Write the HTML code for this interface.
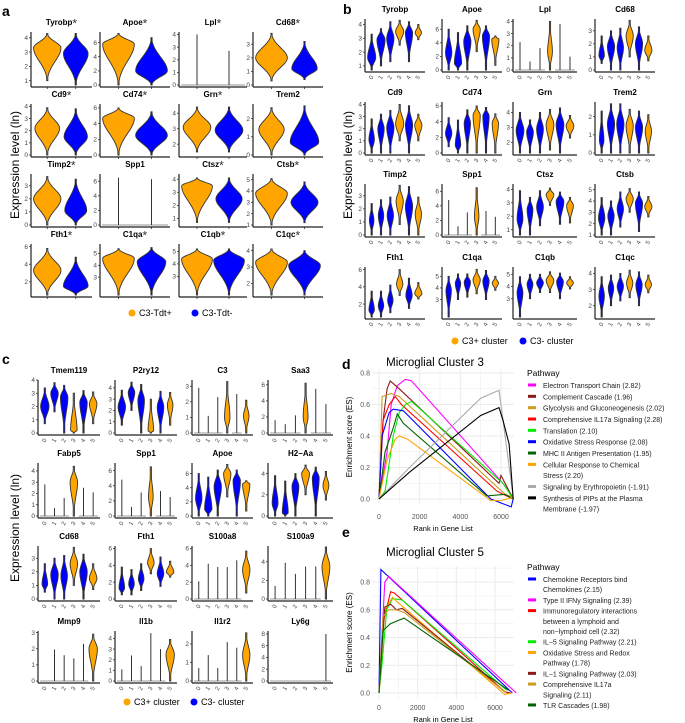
<!DOCTYPE html>
<html><head><meta charset="utf-8"><style>
body{margin:0;background:#fff;}
svg{display:block;font-family:"Liberation Sans",sans-serif;}
</style></head><body>
<svg id="fig" width="685" height="723" viewBox="0 0 685 723" xmlns="http://www.w3.org/2000/svg">
<text x="2" y="16" font-size="14" font-weight="bold">a</text>
<text x="343" y="14" font-size="14" font-weight="bold">b</text>
<text x="2" y="364" font-size="14" font-weight="bold">c</text>
<text x="342" y="369" font-size="14" font-weight="bold">d</text>
<text x="342" y="537" font-size="14" font-weight="bold">e</text>
<text transform="translate(19,165) rotate(-90)" text-anchor="middle" font-size="12">Expression level (ln)</text>
<text transform="translate(352,165) rotate(-90)" text-anchor="middle" font-size="12">Expression level (ln)</text>
<text transform="translate(19,528) rotate(-90)" text-anchor="middle" font-size="12">Expression level (ln)</text>
<g font-size="9">
<circle cx="132" cy="313" r="3.5" fill="#FFA500"/><text x="139" y="316">C3-Tdt+</text>
<circle cx="195" cy="313" r="3.5" fill="#0000FF"/><text x="202" y="316">C3-Tdt-</text></g>
<g font-size="9">
<circle cx="455" cy="341" r="3.5" fill="#FFA500"/><text x="462" y="344">C3+ cluster</text>
<circle cx="523" cy="341" r="3.5" fill="#0000FF"/><text x="530" y="344">C3- cluster</text></g>
<g font-size="9">
<circle cx="127" cy="702" r="3.5" fill="#FFA500"/><text x="134" y="705">C3+ cluster</text>
<circle cx="194" cy="702" r="3.5" fill="#0000FF"/><text x="201" y="705">C3- cluster</text></g>
</svg>
<script>
// ---------- Panel a data ----------
const aGenes=["Tyrobp*","Apoe*","Lpl*","Cd68*","Cd9*","Cd74*","Grn*","Trem2","Timp2*","Spp1","Ctsz*","Ctsb*","Fth1*","C1qa*","C1qb*","C1qc*"];
const aTicks=[[1,2,3,4],[0,2,4,6],[0,1,2,3,4],[0,1,2,3],[0,1,2,3,4],[0,2,4,6],[2,3,4],[0,1,2],[0,1,2,3],[0,2,4,6],[1,2,3,4],[1,2,3,4,5],[2,4,6],[3,4,5],[3,4,5],[2,3,4]];
const aRange=[[0.7,4.4],[0,7.5],[0,4.2],[0,3.9],[0,4.2],[0,6.5],[1.3,4.6],[0,2.8],[0,3.9],[0,7],[0.5,4.4],[1,5.5],[0.5,6.3],[1.5,5.8],[1.5,5.6],[1.3,4.4]];
// each violin: [lo, hi, peak, width]
const aViolins=[
[[1,4.3,3.3,1],[0.7,4.3,2.9,0.9]],
[[0,7.3,5.8,1],[0,6.7,2,1]],
[[0,4,0,0.05],[0,2.7,0,0.05]],
[[0.3,3.8,2,1],[0.4,3.2,1.2,0.8]],
[[0,3.9,2.2,0.9],[0,3.8,1.5,0.85]],
[[0,6,4.7,1],[0,5.5,2.5,1]],
[[1.5,4.4,3.1,0.9],[1.5,4.4,2.9,0.9]],
[[0,2.6,1.4,0.8],[0,2.7,0.7,0.9]],
[[0,3.7,2,1],[0,3.5,1.1,0.8]],
[[0,6.5,0,0.05],[0,6.3,0,0.05]],
[[0.7,4.1,3.5,1],[0.7,4.1,2.5,0.85]],
[[1,5.1,3.8,1],[1.2,4.8,3,0.85]],
[[0.5,5.8,3.3,1],[0.5,4.8,1.5,0.9]],
[[1.5,5.4,4.6,1],[1.5,5.5,4.3,0.9]],
[[1.5,5.2,4.4,1],[1.5,5.2,4.3,1]],
[[1.3,4.1,3.3,1],[1.3,4,3.1,1]]];
const aColors=["#FFA500","#0000FF"];

// ---------- Panel b data ----------
const bGenes=["Tyrobp","Apoe","Lpl","Cd68","Cd9","Cd74","Grn","Trem2","Timp2","Spp1","Ctsz","Ctsb","Fth1","C1qa","C1qb","C1qc"];
const bTicks=[[1,2,3,4],[0,2,4,6],[0,1,2,3,4],[0,1,2,3],[0,1,2,3,4],[0,2,4,6],[2,3,4],[0,1,2],[0,1,2,3],[0,2,4,6],[1,2,3,4],[1,2,3,4,5],[2,4,6],[3,4,5],[3,4,5],[2,3,4]];
const bRange=[[0.7,4.4],[0,7.5],[0,4.2],[0,3.9],[0,4.2],[0,6.5],[1.3,4.7],[0,2.8],[0,3.9],[0,7],[0.6,4.4],[1,5.5],[0.5,6.3],[1.5,5.8],[1.5,5.6],[1.3,4.4]];
const bViolins=[
[[0.7,3.3,1.6,0.9],[1,3.7,2.9,0.9],[1.3,4.2,3,0.8],[2.5,4.3,3.5,0.9],[1.3,4.2,3.4,0.8],[2.9,4,3.4,0.7]],
[[0,6,2.5,0.7],[0,5.5,1,0.8],[0,6.5,4.2,0.8],[2.7,7.3,6,0.8],[0,6.5,5,0.8],[0.7,5,4.5,0.8]],
[[0,2.3,0,0.05],[0,0.7,0,0.05],[0,1.8,0,0.05],[0,4,1.5,0.5],[0,3.8,0,0.05],[0,1.1,0,0.05]],
[[0.5,2.6,1.1,0.6],[0,3,1.8,0.8],[0,3.2,1.7,0.7],[1,3.8,2.6,0.8],[0,3.3,2,0.8],[0.7,2.6,1.5,0.8]],
[[0,2.8,1.1,0.6],[0,3.2,2,0.7],[0,3.5,2.1,0.8],[1,4,2.4,0.9],[0,3.9,2.3,0.8],[1,3.2,2.3,0.8]],
[[0.8,4.5,2.5,0.7],[0,4.2,1,0.6],[0,5.5,3.8,0.7],[0,6,4.8,0.8],[0,5.8,4.7,0.7],[0,5,3.8,0.7]],
[[1.3,4,2.8,0.8],[1.3,3.5,2.7,0.7],[1.3,4,2.9,0.7],[1.5,4.2,3.2,0.8],[1.3,4.3,3.2,0.8],[2.3,3.8,3.1,0.8]],
[[0,2.3,0.7,0.5],[0,2.7,1.6,0.8],[0,2.7,1.6,0.8],[0,2.4,1.5,0.8],[0,2.3,1.4,0.8],[0,2.1,1.2,0.7]],
[[0,2.4,1.1,0.5],[0,2.7,1.5,0.6],[0,2.9,1.5,0.7],[0.8,3.8,2.6,0.8],[0,3.7,2.2,0.8],[0,2.9,1.6,0.7]],
[[0,4.8,0,0.05],[0,1.2,0,0.05],[0,3.1,0,0.05],[0,6.5,2.5,0.5],[0,3.3,0,0.05],[0,2.5,0,0.05]],
[[0.6,3.9,1.8,0.6],[0.6,3.4,2.5,0.6],[1.3,3.9,2.7,0.7],[2.8,4.1,3.6,0.8],[1.4,3.8,3.1,0.8],[1.5,3.4,2.8,0.7]],
[[1,4.3,2.5,0.7],[1,4,2.7,0.7],[1.7,4.8,3.3,0.7],[3,5.1,4.2,0.8],[1.3,4.8,3.8,0.8],[2.6,4.4,3.5,0.8]],
[[0.5,3.5,1.3,0.6],[0.5,3.5,1.8,0.6],[1,4.2,2.4,0.6],[3,6,4.3,0.7],[1.5,5,3,0.7],[2.6,4.5,3.2,0.8]],
[[1.5,5,3.8,0.6],[3,5.2,4.4,0.6],[3.2,5.2,4.5,0.7],[3.5,5.6,4.7,0.8],[3,5.5,4.6,0.7],[3.8,5,4.4,0.7]],
[[1.5,4.8,3.5,0.6],[3,5,4.2,0.6],[3.5,5,4.3,0.7],[3.5,5.2,4.5,0.8],[3,5.1,4.4,0.7],[3.8,4.8,4.3,0.7]],
[[1.3,3.8,2.6,0.6],[2,3.9,3.1,0.6],[2.3,4,3.2,0.7],[2.5,4.2,3.4,0.7],[2,4.1,3.3,0.7],[2.8,3.9,3.3,0.7]]];
const clusterColors=["#0000FF","#0000FF","#0000FF","#FFA500","#0000FF","#FFA500"];
const clusterLabels=["0","1","2","3","4","5"];

// ---------- Panel c data ----------
const cGenes=["Tmem119","P2ry12","C3","Saa3","Fabp5","Spp1","Apoe","H2−Aa","Cd68","Fth1","S100a8","S100a9","Mmp9","Il1b","Il1r2","Ly6g"];
const cTicks=[[0,1,2,3,4],[0,1,2,3,4],[0,1,2,3],[0,2,4,6],[0,1,2,3,4],[0,2,4,6],[0,2,4,6],[0,2,4],[0,1,2,3],[0,2,4,6],[0,2,4,6],[0,2,4],[0,1,2,3],[0,1,2,3,4],[0,1,2],[0,2,4,6,8]];
const cRange=[[0,4],[0,4.7],[0,3.4],[0,6.6],[0,4.7],[0,7],[0,7.5],[0,5],[0,3.9],[0,6.3],[0,6.3],[0,5.7],[0,3.1],[0,4.7],[0,2.7],[0,8.5]];
const cViolins=[
[[0.7,3.4,2,0.9],[1.6,3.8,3,0.8],[0,3.6,2.7,0.8],[0,3,0.2,0.7],[0,3.2,2.3,0.8],[0.7,3.1,2.2,0.8]],
[[0.7,3.8,2.3,0.8],[2,4.5,3.6,0.7],[0,4.3,2.9,0.7],[0,3,0.2,0.6],[0,3.7,2.3,0.7],[0.7,3.6,2.5,0.6]],
[[0,2.9,0,0.05],[0,1.1,0,0.05],[0,2.3,0,0.05],[0,3.3,1,0.6],[0,2.5,0,0.05],[0,2.1,1.1,0.6]],
[[0,1.6,0,0.05],[0,1.1,0,0.05],[0,2.2,0,0.05],[0,6.2,2,0.5],[0,5.5,0,0.05],[0,3.6,0,0.05]],
[[0,2.8,0,0.05],[0,0.7,0,0.05],[0,1.6,0,0.05],[0,4.4,3,0.8],[0,2.5,0,0.05],[0,2.1,0,0.05]],
[[0,4.8,0,0.05],[0,1.2,0,0.05],[0,3.1,0,0.05],[0,6.5,2.5,0.5],[0,3.3,0,0.05],[0,2.5,0,0.05]],
[[0,6,2.5,0.7],[0,5.5,1,0.8],[0,6.5,4.2,0.8],[2.7,7.3,6,0.8],[0,6.5,5,0.8],[0.7,5,4.5,0.8]],
[[0,3.8,1.2,0.6],[0,3.3,0.3,0.6],[0,4,2.8,0.7],[2,4.8,4,0.8],[0,4.6,3.6,0.7],[1.5,4.2,2.9,0.6]],
[[0.5,2.6,1.1,0.6],[0,3,1.8,0.8],[0,3.2,1.7,0.7],[1,3.8,2.6,0.8],[0,3.3,2,0.8],[0.7,2.6,1.5,0.8]],
[[0.5,3.8,1.3,0.6],[0.5,3.5,1.8,0.6],[1,4.2,2.4,0.6],[3,6,4.3,0.7],[1.5,5,3,0.7],[2.6,4.5,3.2,0.8]],
[[0,2.1,0,0.05],[0,4.2,0,0.05],[0,3.8,0,0.05],[0,3.8,0,0.05],[0,4.6,0,0.05],[0.7,5.7,3.5,0.8]],
[[0,1.4,0,0.05],[0,3.9,0,0.05],[0,2.7,0,0.05],[0,3.5,0,0.05],[0,3.5,0,0.05],[0,5.6,3.5,0.8]],
[[0,0,0,0.05],[0,1.95,0,0.05],[0,1.6,0,0.05],[0,1.4,0,0.05],[0,2.3,0,0.05],[0,2.9,2,0.9]],
[[0,1.1,0,0.05],[0,2.4,0,0.05],[0,1.4,0,0.05],[0,4.5,0,0.05],[0,3,0,0.05],[0,3.9,2.5,0.9]],
[[0,0.7,0,0.05],[0,1.4,0,0.05],[0,0.7,0,0.05],[0,2.1,0,0.05],[0,1.8,0,0.05],[0,2.6,1.4,0.8]],
[[0,0,0,0.05],[0,0,0,0.05],[0,0,0,0.05],[0,0,0,0.05],[0,0,0,0.05],[0,8,0,0.05]]];

// ---------- Panel d data ----------
const dNames=["Electron Transport Chain (2.82)","Complement Cascade (1.96)","Glycolysis and Gluconeogenesis (2.02)","Comprehensive IL17a Signaling (2.28)","Translation (2.10)","Oxidative Stress Response (2.08)","MHC II Antigen Presentation (1.95)","Cellular Response to Chemical|Stress (2.20)","Signaling by Erythropoietin (-1.91)","Synthesis of PIPs at the Plasma|Membrane (-1.97)"];
const dColors=["#FF00FF","#8B1A1A","#CD9B1D","#FF0000","#00EE00","#0000FF","#006400","#FFA500","#AAAAAA","#000000"];
const dRanks=[
[0,400,600,900,1300,1600,6100,6600],
[0,200,400,550,1000,5900,6000,6600],
[0,150,600,1000,6200,6600],
[0,200,500,800,1100,5800,6100,6600],
[0,300,700,1000,1300,1600,6100,6600],
[0,150,500,700,1200,5500,6500,6600],
[0,300,700,900,1200,5300,6200,6600],
[0,400,800,1000,1400,5500,6000,6600],
[0,1500,5000,5900,6200,6600],
[0,1500,5000,5900,6100,6400,6600]];
const dES=[
[0,0.3,0.6,0.72,0.76,0.75,0.1,0.01],
[0,0.5,0.7,0.75,0.7,0.1,0.15,0],
[0,0.65,0.67,0.65,0.03,0.01],
[0,0.5,0.6,0.65,0.6,0.05,0.03,0],
[0,0.05,0.4,0.55,0.6,0.62,0.1,0],
[0,0.4,0.55,0.57,0.56,0,-0.05,0],
[0,0.3,0.45,0.54,0.48,0.02,0.03,0],
[0,0.25,0.38,0.4,0.38,-0.01,-0.01,0.01],
[0,0.2,0.64,0.69,0.4,0.01],
[0,0.17,0.53,0.58,0.5,0.35,0]];
const dXTicks=[0,2000,4000,6000];
const dYTicks=[0,0.2,0.4,0.6,0.8];

// ---------- Panel e data ----------
const eNames=["Chemokine Receptors bind|Chemokines (2.15)","Type II IFNy Signaling (2.39)","Immunoregulatory interactions|between a lymphoid and|non−lymphoid cell (2.32)","IL−5 Signaling Pathway (2.21)","Oxidative Stress and Redox|Pathway (1.78)","IL−1 Signaling Pathway (2.03)","Comprehensive IL17a|Signaling (2.11)","TLR Cascades (1.98)"];
const eColors=["#0000FF","#FF00FF","#FF0000","#00EE00","#FFA500","#8B1A1A","#CD9B1D","#006400"];
const eRanks=[
[0,100,6900],
[0,300,500,7100],
[0,200,600,800,6500,6800],
[0,150,400,700,1200,6600],
[0,300,700,1000,6500,6900],
[0,300,600,900,1200,6500,6700],
[0,200,500,900,1300,6600],
[0,200,600,1300,6700]];
const eES=[
[0,0.89,0],
[0,0.8,0.84,0],
[0,0.5,0.73,0.72,0.01,0],
[0,0.2,0.6,0.68,0.67,0.02],
[0,0.6,0.69,0.65,-0.01,0],
[0,0.62,0.64,0.6,0.61,0.01,0],
[0,0.55,0.6,0.6,0.58,0],
[0,0.45,0.5,0.54,0.02]];
const eXTicks=[0,2000,4000,6000];
const eYTicks=[0,0.2,0.4,0.6,0.8];

const NS="http://www.w3.org/2000/svg";
const fig=document.getElementById('fig');
function el(tag,attrs,parent){const e=document.createElementNS(NS,tag);for(const k in attrs)e.setAttribute(k,attrs[k]);(parent||fig).appendChild(e);return e;}

function violinPath(cx,ys,v,W){
  const [lo,hi,pk,w]=v;const maxW=W*w;
  const pts=[];const N=50;
  for(let i=0;i<=N;i++){
    const val=lo+(hi-lo)*i/N;let t;
    if(val>=pk){t=hi>pk?(val-pk)/(hi-pk):0;}else{t=pk>lo?(pk-val)/(pk-lo):0;}
    t=Math.min(t,1);
    let hw=maxW*Math.exp(-3.2*Math.pow(t,2))*(1-Math.pow(t,6));
    hw=Math.max(hw,0.6);
    pts.push([ys(val),hw]);
  }
  let d="M"+(cx)+","+pts[0][0];
  pts.forEach(p=>{d+=" L"+(cx+p[1]).toFixed(2)+","+p[0].toFixed(2);});
  for(let i=pts.length-1;i>=0;i--){d+=" L"+(cx-pts[i][1]).toFixed(2)+","+pts[i][0].toFixed(2);}
  return d+"Z";
}

function violinPanel(prefix,x0,x1,titleY,yBot,gene,ticks,range,violins,colors,xlabels){
  const g=el('g',{});
  
  
  const yTop=titleY+7;
  const ys=v=>yBot-2-(v-range[0])/(range[1]-range[0])*(yBot-2-yTop);
  const t=el('text',{x:(x0+x1)/2,y:titleY,'text-anchor':'middle','font-size':8,'font-weight':'bold'},g);
  
  
  if(gene.endsWith('*')){t.textContent=gene.slice(0,-1);const s=el('tspan',{'font-size':12,'font-weight':'normal',dy:2.5,fill:'#333'},t);s.textContent='*';}
  else t.textContent=gene;
  const n=violins.length;const slot=(x1-x0-4)/n;const W=slot*0.48;
  violins.forEach((v,i)=>{
    const cx=x0+2+slot*(i+0.5);
    if(v[3]<=0.06){
      if(v[0]===0&&v[2]===0){const bl=el('line',{x1:cx-slot*0.5,x2:cx+slot*0.5,y1:ys(0),y2:ys(0),stroke:'#aaa','stroke-width':1.2},g);}
      if(v[1]>v[0]){const sp=el('line',{x1:cx,x2:cx,y1:ys(v[0]),y2:ys(v[1]),stroke:'#333','stroke-width':1},g);}
    } else {
      const p=el('path',{d:violinPath(cx,ys,v,W),fill:colors[i],stroke:'#333','stroke-width':0.9},g);
      
      
    }
    if(xlabels){const xl=el('text',{transform:`translate(${cx+2},${yBot+5}) rotate(-60)`,'text-anchor':'end','font-size':6,fill:'#444'},g);xl.textContent=xlabels[i];
      }
    else {el('line',{x1:cx,x2:cx,y1:yBot,y2:yBot+2,stroke:'#333','stroke-width':0.8},g);}
  });
  el('line',{x1:x0,x2:x0,y1:yTop,y2:yBot,stroke:'#222','stroke-width':1.2},g);
  el('line',{x1:x0,x2:x1,y1:yBot,y2:yBot,stroke:'#222','stroke-width':1.2},g);
  ticks.forEach(tv=>{const y=ys(tv);el('line',{x1:x0-2,x2:x0,y1:y,y2:y,stroke:'#333','stroke-width':0.8},g);
    const tl=el('text',{x:x0-3,y:y+2.2,'text-anchor':'end','font-size':6.5,fill:'#444'},g);tl.textContent=tv;
    });
}

// panel a
const aX0=[31,100,179,253],aX1=[92,170,247,323],aTY=[25,97,167,237],aYB=[87,157,227,297];
aGenes.forEach((g,i)=>{const r=Math.floor(i/4),c=i%4;violinPanel('panel-a',aX0[c],aX1[c],aTY[r],aYB[r],g,aTicks[i],aRange[i],aViolins[i],aColors,null);});
// panel b
const bX0=[365,442,513,595],bX1=[425,502,577,655],bTY=[12,95,177,260],bYB=[72,155,237,319];
bGenes.forEach((g,i)=>{const r=Math.floor(i/4),c=i%4;violinPanel('panel-b',bX0[c],bX1[c],bTY[r],bYB[r],g,bTicks[i],bRange[i],bViolins[i],clusterColors,clusterLabels);});
// panel c
const cX0=[38,115,192,268],cX1=[100,177,253,333],cTY=[373,456,539,624],cYB=[435,518,601,683];
cGenes.forEach((g,i)=>{const r=Math.floor(i/4),c=i%4;violinPanel('panel-c',cX0[c],cX1[c],cTY[r],cYB[r],g,cTicks[i],cRange[i],cViolins[i],clusterColors,clusterLabels);});

// GSEA panels
function gsea(prefix,title,titleY,px0,px1,py0,py1,xs,ys,xTicks,yTicks,names,colors,ranks,es,legY,lineGap,xlabY){
  const g=el('g',{});
  
  
  const tt=el('text',{x:435,y:titleY,'text-anchor':'middle','font-size':11.5},g);tt.textContent=title;
  
  for(let v=0;v<=7000;v+=1000){const x=xs(v);if(x<px0||x>px1)continue;el('line',{x1:x,x2:x,y1:py0,y2:py1,stroke:'#ebebeb','stroke-width':v%2000?0.5:1},g);}
  for(let v=0;v<=0.9;v+=0.1){const y=ys(v);if(y<py0)continue;el('line',{x1:px0,x2:px1,y1:y,y2:y,stroke:'#ebebeb','stroke-width':Math.round(v*10)%2?0.5:1},g);}
  xTicks.forEach(v=>{const t=el('text',{x:xs(v),y:xlabY,'text-anchor':'middle','font-size':7,fill:'#555'},g);t.textContent=v;
    });
  yTicks.forEach(v=>{const t=el('text',{x:px0-2,y:ys(v)+2.5,'text-anchor':'end','font-size':7,fill:'#555'},g);t.textContent=v.toFixed(1);
    });
  const xt=el('text',{x:(px0+px1)/2,y:xlabY+12,'text-anchor':'middle','font-size':7.5},g);xt.textContent='Rank in Gene List';
  
  const yt=el('text',{transform:`translate(352,${(py0+py1)/2}) rotate(-90)`,'text-anchor':'middle','font-size':8},g);yt.textContent='Enrichment score (ES)';
  
  names.forEach((n,i)=>{
    const pts=ranks[i].map((r,j)=>xs(r).toFixed(1)+','+ys(es[i][j]).toFixed(1)).join(' ');
    const pl=el('polyline',{points:pts,fill:'none',stroke:colors[i],'stroke-width':1.1},g);
    
    
  });
  const lh=el('text',{x:527,y:legY,'font-size':8.5},g);lh.textContent='Pathway';
  
  let y=legY+12;
  names.forEach((n,i)=>{
    const lg=el('g',{},g);
    
    
    el('rect',{x:528,y:y-4.5,width:8,height:3,fill:colors[i]},lg);
    n.split('|').forEach(line=>{const t=el('text',{x:543,y:y,'font-size':7,fill:'#222'},lg);t.textContent=line;y+=lineGap;});
    y+=lineGap*0.05;
  });
}
const dxs=v=>379+v*(122/6000), dys=v=>499-v*(126/0.8);
gsea('panel-d','Microglial Cluster 3',366,372,514,369,505,dxs,dys,dXTicks,dYTicks,dNames,dColors,dRanks,dES,376,10.8,519);
const exs=v=>379+v*(116/6000), eys=v=>693-v*(111/0.8);
gsea('panel-e','Microglial Cluster 5',556,372,514,566,699,exs,eys,eXTicks,eYTicks,eNames,eColors,eRanks,eES,570,10.2,710);
</script>
</body></html>
